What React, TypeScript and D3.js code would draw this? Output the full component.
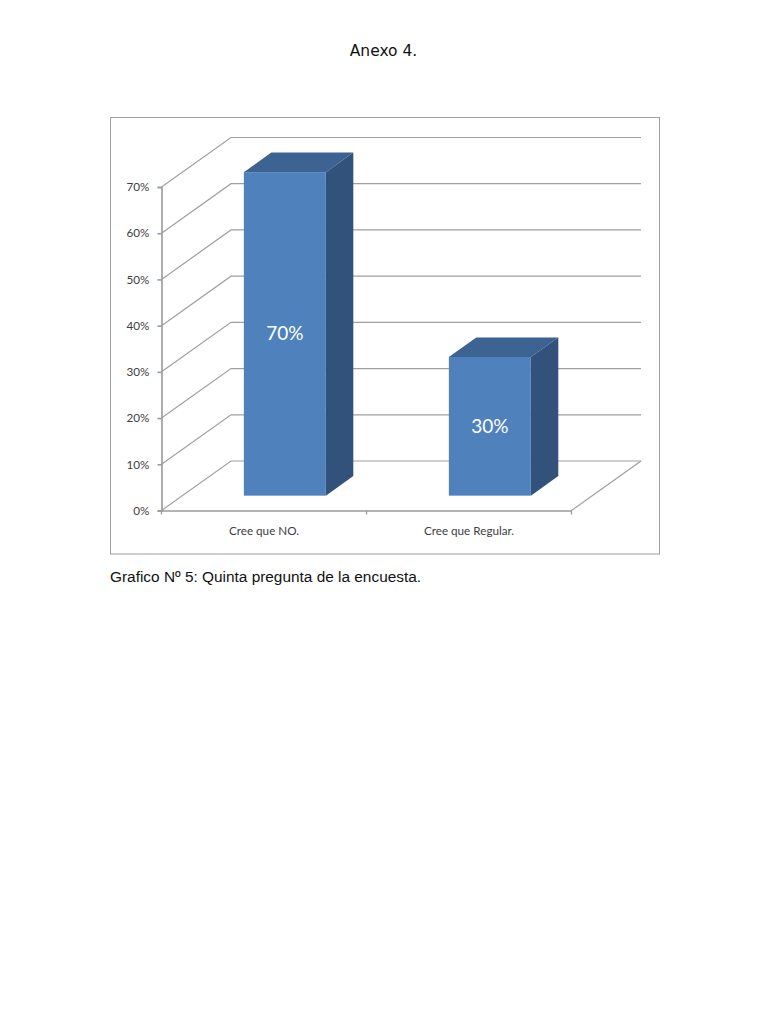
import { useEffect, useRef } from 'react'
import * as d3 from 'd3'

const categories = ['Cree que NO.', 'Cree que Regular.']
const values = [70, 30]
const yTicks = [0, 10, 20, 30, 40, 50, 60, 70]
const heading = 'Anexo 4.'
const caption = 'Grafico Nº 5: Quinta pregunta de la encuesta.'

const frontColor = '#4f81bd'
const topColor = '#3c6391'
const sideColor = '#32527b'
const gridColor = '#a0a0a0'
const axisColor = '#9a9a9a'
const labelFont = 'Lato, sans-serif'

export default function App() {
  const svgRef = useRef<SVGSVGElement>(null)

  useEffect(() => {
    if (!svgRef.current) return

    const svg = d3.select(svgRef.current)
    svg.selectAll('*').remove()

    const x = d3.scaleBand<string>()
      .domain(categories)
      .range([161.5, 571.5])
      .paddingInner(0.6)
      .paddingOuter(0.3)

    const y = d3.scaleLinear()
      .domain([0, 70])
      .range([510.5, 187])

    // oblique offset of the back wall from the front plane
    const depthX = 69.5
    const depthY = -49.5
    const barFrom = 0.3
    const barTo = 0.695

    svg.append('text')
      .attr('x', 383.5)
      .attr('y', 56)
      .attr('text-anchor', 'middle')
      .attr('font-family', '"DejaVu Sans", sans-serif')
      .attr('font-size', 15.5)
      .attr('fill', '#111')
      .text(heading)

    svg.append('rect')
      .attr('x', 110.5)
      .attr('y', 117.5)
      .attr('width', 549)
      .attr('height', 436.5)
      .attr('fill', '#fff')
      .attr('stroke', '#a0a0a0')
      .attr('stroke-width', 1)

    // floor and side wall grid
    const [x0, x1] = x.range()
    const gridLine = d3.line()
    const wall = svg.append('g')
      .attr('fill', 'none')
      .attr('stroke', gridColor)
      .attr('stroke-width', 1.2)

    yTicks.forEach(t => {
      wall.append('path').attr('d', gridLine([
        [x0, y(t)],
        [x0 + depthX, y(t) + depthY],
        [x1 + depthX, y(t) + depthY],
      ]))
    })
    wall.append('path').attr('d', gridLine([
      [x1, y(0)],
      [x1 + depthX, y(0) + depthY],
    ]))

    const yAxis = svg.append('g')
      .attr('transform', `translate(${x0},0)`)
      .call(d3.axisLeft(y).tickValues(yTicks).tickSize(4).tickPadding(8).tickFormat(d => `${d}%`))

    const xAxis = svg.append('g')
      .attr('transform', `translate(0,${y(0)})`)
      .call(d3.axisBottom(x).tickSize(0).tickPadding(16))

    // category boundary ticks, the band axis only has centred ones
    const boundaries = [x0, (x0 + x1) / 2, x1]
    xAxis.selectAll('.boundary')
      .data(boundaries)
      .enter()
      .append('line')
      .attr('class', 'boundary')
      .attr('x1', d => d)
      .attr('x2', d => d)
      .attr('y1', 0)
      .attr('y2', 4)
      .attr('stroke', axisColor)
      .attr('stroke-width', 1.3)

    for (const axis of [yAxis, xAxis]) {
      axis.selectAll('.domain, .tick line')
        .attr('stroke', axisColor)
        .attr('stroke-width', 1.6)
      axis.selectAll('text')
        .attr('font-family', labelFont)
        .attr('font-size', 11.7)
        .attr('fill', '#404040')
    }

    const bars = svg.selectAll('.bar')
      .data(categories.map((c, i) => ({ category: c, value: values[i] })))
      .enter()
      .append('g')
      .attr('class', 'bar')

    const bw = x.bandwidth()
    const frontX = (d: { category: string }) => x(d.category)! + barFrom * depthX
    const floorY = y(0) + barFrom * depthY
    const topY = (d: { value: number }) => floorY - (y(0) - y(d.value))
    const barDx = (barTo - barFrom) * depthX
    const barDy = (barTo - barFrom) * depthY

    bars.append('path')
      .attr('fill', topColor)
      .attr('d', d => gridLine([
        [frontX(d), topY(d)],
        [frontX(d) + barDx, topY(d) + barDy],
        [frontX(d) + barDx + bw, topY(d) + barDy],
        [frontX(d) + bw, topY(d)],
      ]) + 'Z')

    bars.append('path')
      .attr('fill', sideColor)
      .attr('d', d => gridLine([
        [frontX(d) + bw, topY(d)],
        [frontX(d) + bw + barDx, topY(d) + barDy],
        [frontX(d) + bw + barDx, floorY + barDy],
        [frontX(d) + bw, floorY],
      ]) + 'Z')

    bars.append('rect')
      .attr('x', d => frontX(d))
      .attr('y', d => topY(d))
      .attr('width', bw)
      .attr('height', d => floorY - topY(d))
      .attr('fill', frontColor)

    bars.append('text')
      .attr('x', d => frontX(d) + bw / 2)
      .attr('y', d => (topY(d) + floorY) / 2 + 6.5)
      .attr('text-anchor', 'middle')
      .attr('font-family', labelFont)
      .attr('font-size', 19)
      .attr('fill', '#fff')
      .text(d => `${d.value}%`)

    svg.append('text')
      .attr('x', 110)
      .attr('y', 582)
      .attr('font-family', '"Liberation Sans", sans-serif')
      .attr('font-size', 15.4)
      .attr('fill', '#111')
      .text(caption)
  }, [])

  return (
    <svg
      ref={svgRef}
      width={768}
      height={1024}
      style={{ position: 'absolute', left: 0, top: 0, background: '#fff' }}
    />
  )
}
